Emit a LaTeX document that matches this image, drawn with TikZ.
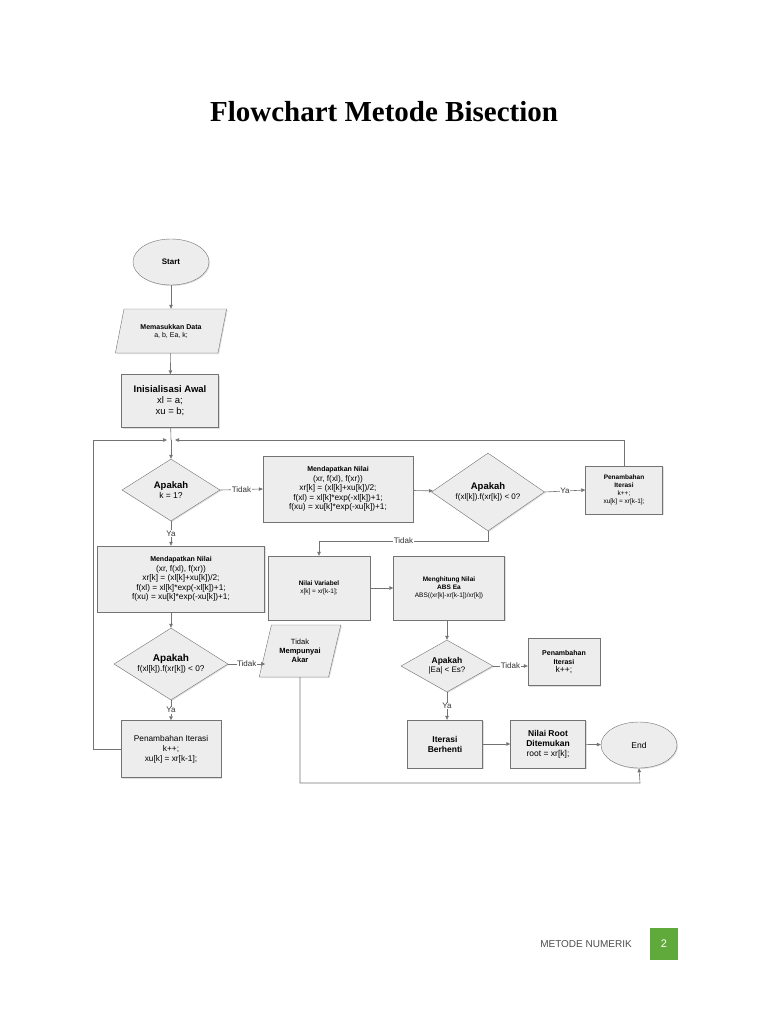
\documentclass[tikz,border=0pt]{standalone}
\usepackage{fontspec}
\setmainfont{Liberation Serif}
\newfontfamily\arial{Liberation Sans}
\usetikzlibrary{shapes.geometric,arrows.meta,shadows}
\definecolor{ln}{gray}{0.45}
\definecolor{fil}{gray}{0.93}
\definecolor{grn}{RGB}{96,170,60}
\tikzset{
 base/.style={draw=ln,fill=fil,font=\arial\fontsize{7}{8}\selectfont,align=center,inner sep=1pt,drop shadow={opacity=0.25,shadow xshift=1pt,shadow yshift=-1pt}},
 boxx/.style={base,rectangle,minimum width=#1},
 dia/.style={base,diamond,aspect=1.4,inner sep=0pt},
 ell/.style={base,ellipse,minimum width=76pt,minimum height=46pt},
 para/.style={base,trapezium,trapezium left angle=70,trapezium right angle=110,trapezium stretches=true},
 arr/.style={draw=ln,line width=0.6pt,-{Triangle[length=4pt,width=3.5pt]}},
 lin/.style={draw=ln,line width=0.6pt},
 lab/.style={font=\arial\fontsize{8}{9}\selectfont,fill=white,inner sep=0.5pt,text=black!80}
}
\newcommand{\bb}[1]{\textbf{#1}}
\begin{document}
\begin{tikzpicture}[x=1pt,y=-1pt]
\useasboundingbox (0,0) rectangle (768,1024);
\node[font=\bfseries\fontsize{29}{32}\selectfont] (title) at (384,112) {Flowchart Metode Bisection};

\node[ell,font=\arial\fontsize{8}{9}\selectfont] (start) at (171,262) {\bb{Start}};
\node[para,minimum width=112pt,minimum height=44pt] (data) at (171,331) {\bb{Memasukkan Data}\\a, b, Ea, k;};
\node[boxx=97pt,minimum height=53pt,font=\arial\fontsize{9.5}{11}\selectfont] (init) at (170,401) {\bb{Inisialisasi Awal}\\xl = a;\\xu = b;};
\coordinate (m) at (171,440);
\node[dia,minimum width=98pt,minimum height=62pt,font=\arial\fontsize{8.5}{10}\selectfont] (d1) at (171,490) {\bb{\fontsize{9.5}{10}\selectfont Apakah}\\k = 1?};
\node[boxx=150pt,minimum height=66pt,font=\arial\fontsize{8.3}{9.6}\selectfont] (m1) at (338,489) {\bb{\fontsize{7}{8}\selectfont Mendapatkan Nilai}\\(xr, f(xl), f(xr))\\xr[k] = (xl[k]+xu[k])/2;\\f(xl) = xl[k]*exp(-xl[k])+1;\\f(xu) = xu[k]*exp(-xu[k])+1;};
\node[dia,minimum width=113pt,minimum height=78pt,font=\arial\fontsize{8}{9.5}\selectfont] (d2) at (488,492) {\bb{\fontsize{9.5}{11}\selectfont Apakah}\\f(xl[k]).f(xr[k]) < 0?};
\node[boxx=77pt,minimum height=48pt,font=\arial\fontsize{6.5}{8}\selectfont] (p1) at (624,490) {\bb{Penambahan}\\\bb{Iterasi}\\k++;\\xu[k] = xr[k-1];};
\node[boxx=102pt,minimum height=64pt,font=\arial\fontsize{6.5}{8}\selectfont] (nv) at (319,588) {\bb{Nilai Variabel}\\x[k] = xr[k-1];};
\node[boxx=111pt,minimum height=64pt,font=\arial\fontsize{6.5}{8}\selectfont] (mh) at (449,588) {\bb{Menghitung Nilai}\\\bb{ABS Ea}\\ABS((xr[k]-xr[k-1])/xr[k])};
\node[dia,minimum width=92pt,minimum height=52pt,font=\arial\fontsize{8}{9.5}\selectfont] (d3) at (447,666) {\bb{\fontsize{8.5}{9.5}\selectfont Apakah}\\|Ea| < Es?};
\node[boxx=72pt,minimum height=47pt,font=\arial\fontsize{7}{8.5}\selectfont] (p2) at (564,662) {\bb{Penambahan}\\\bb{Iterasi}\\{\fontsize{8.5}{10}\selectfont k++;}};
\node[boxx=75pt,minimum height=48pt,font=\arial\fontsize{8.5}{10}\selectfont] (ib) at (445,744) {\bb{Iterasi}\\\bb{Berhenti}};
\node[boxx=75pt,minimum height=48pt,font=\arial\fontsize{8.5}{10}\selectfont] (nr) at (548,744) {\bb{Nilai Root}\\\bb{Ditemukan}\\root = xr[k];};
\node[ell,font=\arial\fontsize{8.5}{10}\selectfont] (end) at (639,745) {End};

\node[boxx=167pt,minimum height=66pt,font=\arial\fontsize{8.3}{9.6}\selectfont] (m2) at (181,579) {\bb{\fontsize{7}{8}\selectfont Mendapatkan Nilai}\\(xr, f(xl), f(xr))\\xr[k] = (xl[k]+xu[k])/2;\\f(xl) = xl[k]*exp(-xl[k])+1;\\f(xu) = xu[k]*exp(-xu[k])+1;};
\node[dia,minimum width=114pt,minimum height=72pt,font=\arial\fontsize{8.3}{10}\selectfont] (d4) at (171,664) {\bb{\fontsize{10}{11}\selectfont Apakah}\\f(xl[k]).f(xr[k]) < 0?};
\node[para,minimum width=82pt,minimum height=52pt,font=\arial\fontsize{7.5}{9}\selectfont] (ak) at (300,651) {Tidak\\\bb{Mempunyai}\\\bb{Akar}};
\node[boxx=100pt,minimum height=57pt,font=\arial\fontsize{8.3}{10}\selectfont] (p3) at (171,749) {Penambahan Iterasi\\k++;\\xu[k] = xr[k-1];};

\node[font=\arial\fontsize{10}{12}\selectfont,text=black!70] (ft) at (586,944) {METODE NUMERIK};
\node[fill=grn,minimum width=28pt,minimum height=32pt,text=white,font=\arial\fontsize{11}{13}\selectfont] (pg) at (664,944) {2};

\draw[arr] (start) -- (data);
\draw[arr] (data) -- (init);
\draw[lin] (init) -- (m);
\draw[arr] (m) -- (d1);
\draw[arr] (d1.east) -- node[lab]{Tidak} (m1.west);
\draw[arr] (m1) -- (d2);
\draw[arr] (d2.east) -- node[lab]{Ya} (p1.west);
\draw[arr] (p1.north) |- (175,440);
\draw[arr] (d2.south) |- node[lab,pos=0.75]{Tidak} (319,541) -- (nv.north);
\draw[arr] (nv) -- (mh);
\draw[arr] (mh.south -| d3) -- (d3.north);
\draw[arr] (d3.east) -- node[lab]{Tidak} (p2.west |- d3.east);
\draw[arr] (d3.south) -- node[lab]{Ya} (ib.north -| d3);
\draw[arr] (ib) -- (nr);
\draw[arr] (nr) -- (end);
\draw[arr] (d1.south) -- node[lab]{Ya} (m2.north -| d1);
\draw[arr] (m2.south -| d4) -- (d4.north);
\draw[arr] (d4.east) -- node[lab]{Tidak} (ak.west |- d4.east);
\draw[arr] (d4.south) -- node[lab]{Ya} (p3.north);
\draw[arr] (p3.west) -| (93,440) -- (167,440);
\draw[arr] (ak.south) |- (640,783) -- (end.south);
\end{tikzpicture}
\end{document}
